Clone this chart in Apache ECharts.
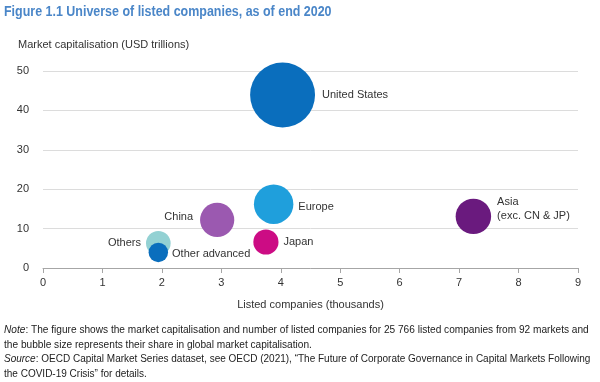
<!DOCTYPE html>
<html>
<head>
<meta charset="utf-8">
<script src="https://cdn.jsdelivr.net/npm/echarts@6/dist/echarts.min.js"></script>
<style>
html,body{margin:0;padding:0;background:#fff;}
#main{width:600px;height:382px;}
</style>
</head>
<body>
<div id="main"></div>
<script>
// ---- Data ----
const regions = ['Others', 'Other advanced', 'China', 'Japan', 'Europe', 'Asia\n(exc. CN & JP)', 'United States'];
const listedCompanies = [1.94, 1.94, 2.93, 3.75, 3.88, 7.24, 4.03];   // thousands
const marketCap = [6.3, 3.95, 12.2, 6.6, 16.2, 13.1, 43.9];           // USD trillions
const xTicks = [0, 1, 2, 3, 4, 5, 6, 7, 8, 9];
const yTicks = [0, 10, 20, 30, 40, 50];

// ---- Styling ----
const colors = {
  'Others': '#93d1d3',
  'Other advanced': '#0a6ebd',
  'China': '#9b59b0',
  'Japan': '#cc0c84',
  'Europe': '#1f9fdc',
  'Asia\n(exc. CN & JP)': '#6a1a7e',
  'United States': '#0a6ebd'
};
const labelLayout = {
  'Others': {position: 'left', distance: 5, offset: [0, 0]},
  'Other advanced': {position: 'right', distance: 4, offset: [0, 2]},
  'China': {position: 'left', distance: 7, offset: [0, -3]},
  'Japan': {position: 'right', distance: 5, offset: [0, 0]},
  'Europe': {position: 'right', distance: 5, offset: [0, 3]},
  'Asia\n(exc. CN & JP)': {position: 'right', distance: 6, offset: [0, -7]},
  'United States': {position: 'right', distance: 7, offset: [0, 0]}
};
const FONT = '"Liberation Sans", Arial, sans-serif';
const TXT = '#333333';

const data = regions.map((r, i) => ({
  name: r,
  value: [listedCompanies[i], marketCap[i]],
  itemStyle: {color: colors[r], opacity: 1},
  label: Object.assign({show: true, formatter: '{b}', color: TXT, fontSize: 11, fontFamily: FONT, lineHeight: 14}, labelLayout[r])
}));

const chart = echarts.init(document.getElementById('main'), null, {renderer: 'canvas'});
chart.setOption({
  animation: false,
  backgroundColor: '#fff',
  grid: {left: 43, right: 22, top: 71, bottom: 114, containLabel: false},
  xAxis: {
    type: 'value', min: xTicks[0], max: xTicks[xTicks.length - 1], interval: 1,
    name: 'Listed companies (thousands)', nameLocation: 'middle', nameGap: 31,
    nameTextStyle: {color: TXT, fontSize: 11, fontFamily: FONT},
    axisLine: {show: true, lineStyle: {color: '#a6a6a6', width: 1}},
    axisTick: {show: true, length: 5, lineStyle: {color: '#a6a6a6'}},
    axisLabel: {color: TXT, fontSize: 11, fontFamily: FONT, margin: 9},
    splitLine: {show: false}
  },
  yAxis: {
    type: 'value', min: yTicks[0], max: yTicks[yTicks.length - 1], interval: 10,
    axisLine: {show: false}, axisTick: {show: false},
    axisLabel: {color: TXT, fontSize: 11, fontFamily: FONT, margin: 14},
    splitLine: {show: true, lineStyle: {color: '#dcdcdc', width: 1}}
  },
  series: [{
    type: 'scatter',
    data: data,
    symbol: 'circle',
    symbolSize: function (val) { return 9.8 * Math.sqrt(val[1]); },
    itemStyle: {opacity: 1},
    emphasis: {disabled: true}
  }],
  graphic: [
    {type: 'text', x: 4, y: 5, scaleX: 0.89, style: {text: 'Figure 1.1 Universe of listed companies, as of end 2020', fill: '#4a86c8', fontSize: 14, fontWeight: 'bold', fontFamily: FONT}},
    {type: 'text', left: 18, top: 39, style: {text: 'Market capitalisation (USD trillions)', fill: TXT, fontSize: 11, fontFamily: FONT}},
    {type: 'text', left: 4, top: 325, style: {text: '{i|Note}: The figure shows the market capitalisation and number of listed companies for 25 766 listed companies from 92 markets and', fill: '#222', fontSize: 10.15, fontFamily: FONT, rich: {i: {fontStyle: 'italic', fontSize: 10.15, fontFamily: FONT, fill: '#222'}}}},
    {type: 'text', left: 4, top: 340, style: {text: 'the bubble size represents their share in global market capitalisation.', fill: '#222', fontSize: 10.15, fontFamily: FONT}},
    {type: 'text', left: 4, top: 354, style: {text: '{i|Source}: OECD Capital Market Series dataset, see OECD (2021), \u201CThe Future of Corporate Governance in Capital Markets Following', fill: '#222', fontSize: 10, fontFamily: FONT, rich: {i: {fontStyle: 'italic', fontSize: 10, fontFamily: FONT, fill: '#222'}}}},
    {type: 'text', left: 4, top: 369, style: {text: 'the COVID-19 Crisis\u201D for details.', fill: '#222', fontSize: 10, fontFamily: FONT}}
  ]
});
</script>
</body>
</html>
